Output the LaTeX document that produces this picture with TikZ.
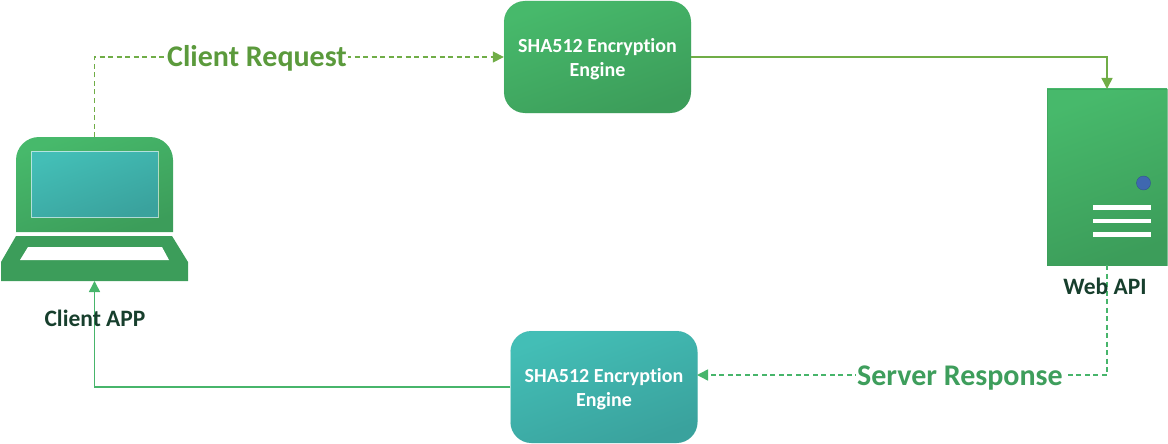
\documentclass[tikz,border=0pt]{standalone}
\usepackage{fontspec}
\setmainfont[Ligatures=NoCommon]{Carlito}
\usetikzlibrary{arrows.meta}
\definecolor{greenL}{HTML}{47B96B}
\definecolor{greenD}{HTML}{3C9D5A}
\definecolor{tealL}{HTML}{43BEB6}
\definecolor{tealD}{HTML}{3AA29D}
\definecolor{lineA}{HTML}{70AD47}
\definecolor{lineB}{HTML}{47B56B}
\definecolor{labA}{HTML}{5B9A3C}
\definecolor{labB}{HTML}{3E9E5C}
\definecolor{darktxt}{HTML}{173F2D}
\definecolor{dotblue}{HTML}{3F68B0}
\tikzset{
  x=1pt,y=-1pt,
  greenshade/.style={top color=greenL,middle color=greenD!85!greenL,bottom color=greenD,shading angle=20},
  tealshade/.style={top color=tealL,middle color=tealD!85!tealL,bottom color=tealD,shading angle=20},
  engine/.style={rounded corners=21pt,minimum width=187pt,minimum height=112pt,inner sep=0pt,
    align=center,text=white,font=\fontsize{20}{24}\selectfont\bfseries,draw opacity=.25},
  ghost/.style={inner sep=0pt,outer sep=0pt},
  linkA/.style={draw=lineA,line width=1.5pt,-{Triangle[length=11pt,width=11pt]}},
  linkB/.style={draw=lineB,line width=1.5pt,-{Triangle[length=11pt,width=11pt]}},
  dashlink/.style={dash pattern=on 5pt off 3.5pt},
  flowlabel/.style={fill=white,inner sep=1pt,font=\fontsize{30}{32}\selectfont\bfseries},
  caption/.style={text=darktxt,font=\fontsize{23.5}{26}\selectfont\bfseries},
  whitebar/.style={fill=white}
}
\newcommand{\lowerstrut}{\rule{0pt}{17.5pt}}
\begin{document}
\begin{tikzpicture}
\useasboundingbox (0,0) rectangle (1168,444);
% engines
\node[engine,greenshade,draw=greenD] (engA) at (597.5,57) {\lowerstrut SHA512 Encryption\\Engine};
\node[engine,tealshade,draw=tealD] (engB) at (604,387) {\lowerstrut SHA512 Encryption\\Engine};
\coordinate (engBin) at (697,375);
% laptop
\node[ghost,minimum width=187pt,minimum height=144pt] (laptop) at (94.5,209) {};
\shade[greenshade,rounded corners=23pt] (16,232) [sharp corners] -- (16,190) [rounded corners=23pt] -- (16,137) -- (173,137) -- (173,190) [sharp corners] -- (173,232) -- cycle;
\shade[tealshade,draw=white,draw opacity=.6,line width=1pt] (31.5,151) rectangle (158,217);
\fill[greenD] (16,236) -- (172,236) -- (188,262) -- (188,281) -- (1,281) -- (1,262) -- cycle;
\fill[whitebar] (28,247) -- (162,247) -- (169,260) -- (20,260) -- cycle;
% server
\node[ghost,greenshade,draw=greenD,draw opacity=.6,minimum width=120pt,minimum height=176pt] (server) at (1107,177) {};
\node[ghost,circle,fill=dotblue,draw=dotblue!80!black,minimum size=14pt] (dot) at (1143.5,183) {};
\fill[whitebar] (1093,205) rectangle (1151,209.5);
\fill[whitebar] (1093,218.5) rectangle (1151,223);
\fill[whitebar] (1093,232) rectangle (1151,236.5);
% connectors
\draw[linkA,dashlink] (laptop.north) |- (engA.west);
\draw[linkA] (engA.east) -| (server.north);
\draw[linkB,dashlink] (server.south) |- (engBin);
\draw[linkB] (engB.west) -| (laptop.south);
% labels
\node[flowlabel,text=labA] (req) at (257,58.5) {Client Request};
\node[flowlabel,text=labB] (resp) at (960,378) {Server Response};
\node[caption] (capA) at (95,318) {Client APP};
\node[caption] (capB) at (1105,286) {Web API};
\end{tikzpicture}
\end{document}
